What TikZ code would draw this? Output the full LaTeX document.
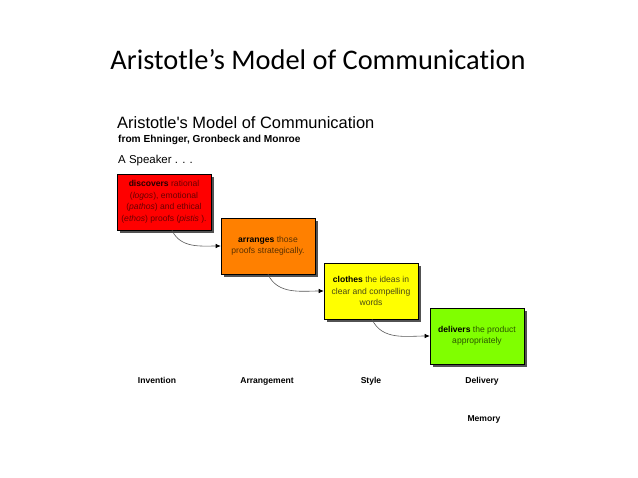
\documentclass[tikz,border=0pt]{standalone}
\usepackage{fontspec}
\setmainfont{Liberation Sans}
\newfontfamily\calibri[Ligatures={NoCommon}]{Carlito}
\usetikzlibrary{arrows.meta,shadows}
\definecolor{redbox}{HTML}{FF0000}
\definecolor{orangebox}{HTML}{FF8000}
\definecolor{yellowbox}{HTML}{FFFF00}
\definecolor{greenbox}{HTML}{80FF00}
\definecolor{redtxt}{HTML}{6A0000}
\definecolor{orangetxt}{HTML}{5A3000}
\definecolor{yellowtxt}{HTML}{4A4A14}
\definecolor{greentxt}{HTML}{2A5500}
\tikzset{
  stagebox/.style={draw=black, line width=0.6bp, minimum width=94bp, minimum height=56bp,
    inner sep=0pt, align=center, font=\fontsize{8.6}{11.6}\selectfont,
    drop shadow={shadow xshift=3bp, shadow yshift=-3bp, fill=black!75, opacity=0.9}},
  flow/.style={draw=black!65, line width=0.6bp, -{Latex[length=5bp,width=4.5bp,black]}},
  stagelabel/.style={font=\fontsize{8.6}{10}\selectfont\bfseries, inner sep=0pt, anchor=base}
}
\begin{document}
\begin{tikzpicture}[x=1bp,y=-1bp]
\useasboundingbox[fill=white] (0,0) rectangle (638,478);
\node[font=\calibri\fontsize{28.5}{34}\selectfont, inner sep=0pt] (title) at (318,60) {Aristotle’s Model of Communication};
\node[anchor=west, font=\fontsize{16.5}{20}\selectfont, inner sep=0pt] (subtitle) at (117,123) {Aristotle\textquotesingle s Model of Communication};
\node[anchor=west, font=\fontsize{10.2}{13}\selectfont\bfseries, inner sep=0pt] (source) at (118,140) {from Ehninger, Gronbeck and Monroe};
\node[anchor=west, font=\fontsize{11.5}{14}\selectfont, inner sep=0pt] (speaker) at (118,161) {A Speaker . . .};

\node[stagebox, fill=redbox, text=redtxt] (inv) at (164,202)
  {\textcolor{black!85!red}{\bfseries discovers} rational\\ (\textit{logos}), emotional\\ (\textit{pathos}) and ethical\\ (\textit{ethos}) proofs (\textit{pistis} ).};
\node[stagebox, fill=orangebox, text=orangetxt] (arr) at (268,246)
  {\textcolor{black}{\bfseries arranges} those\\ proofs strategically.};
\node[stagebox, fill=yellowbox, text=yellowtxt] (sty) at (371,291)
  {\textcolor{black}{\bfseries clothes} the ideas in\\ clear and compelling\\ words};
\node[stagebox, fill=greenbox, text=greentxt] (del) at (477,336)
  {\textcolor{black}{\bfseries delivers} the product\\ appropriately};

\draw[flow] ([xshift=8bp]inv.south) to[out=-65,in=180] (arr.west);
\draw[flow] (arr.south) to[out=-65,in=180] (sty.west);
\draw[flow] ([xshift=1bp]sty.south) to[out=-65,in=180] (del.west);

\node[stagelabel] (l1) at (157,383) {Invention};
\node[stagelabel] (l2) at (267,383) {Arrangement};
\node[stagelabel] (l3) at (371,383) {Style};
\node[stagelabel] (l4) at (482,383) {Delivery};
\node[stagelabel] (l5) at (484,421) {Memory};
\end{tikzpicture}
\end{document}
